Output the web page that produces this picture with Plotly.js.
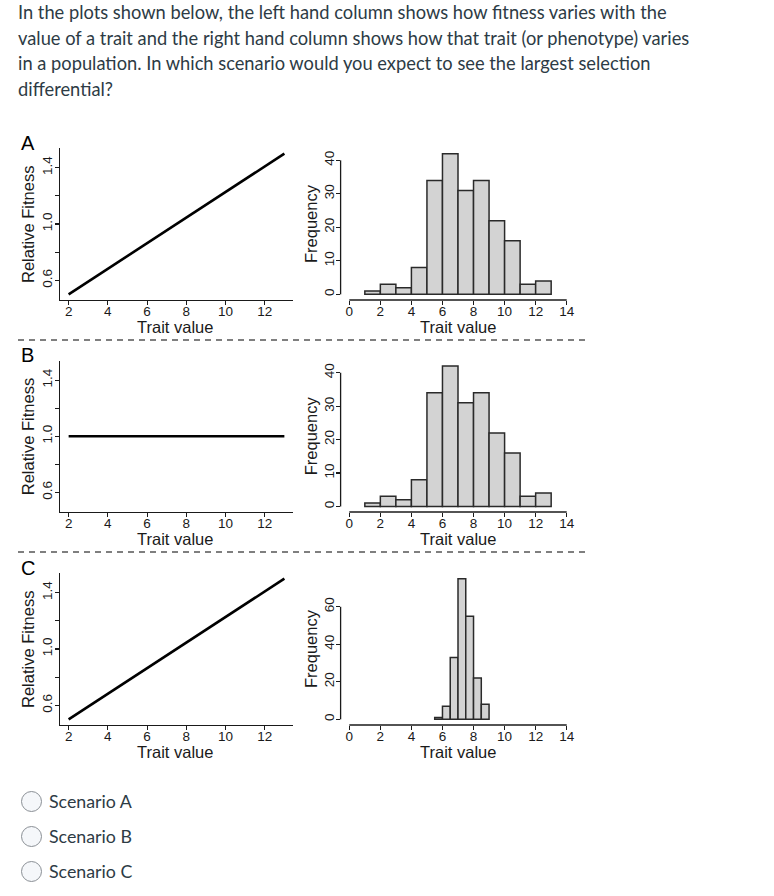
<!DOCTYPE html>
<html>
<head>
<meta charset="utf-8">
<script src="https://cdn.plot.ly/plotly-3.0.1.min.js"></script>
<style>
  html, body { margin: 0; padding: 0; background: #fff; }
  body { width: 774px; height: 896px; position: relative; overflow: hidden; }
  #chart { position: absolute; left: 0; top: 0; width: 774px; height: 896px; }
  #question { position: absolute; left: 18px; top: 0px; font-family: Lato, "Open Sans", sans-serif;
    font-size: 18.3px; line-height: 25.7px; color: #2d3b45; white-space: nowrap; }
  .opt { position: absolute; left: 21px; height: 24px; font-family: Lato, sans-serif; font-size: 17.8px; color: #2d3b45; }
  .opt .dot { position: absolute; left: 0; top: 1px; width: 21px; height: 21px; border-radius: 50%;
    border: 1.3px solid #8a8f95; background: #f5f7fa; box-sizing: border-box; }
  .opt .lbl { position: absolute; left: 28px; top: 0; line-height: 22px; white-space: nowrap; }
</style>
</head>
<body>
<div id="chart"></div>
<div id="question">In the plots shown below, the left hand column shows how fitness varies with the<br>value of a trait and the right hand column shows how that trait (or phenotype) varies<br>in a population. In which scenario would you expect to see the largest selection<br>differential?</div>
<div class="opt" style="top:790px"><span class="dot"></span><span class="lbl">Scenario A</span></div>
<div class="opt" style="top:825px"><span class="dot"></span><span class="lbl">Scenario B</span></div>
<div class="opt" style="top:860px"><span class="dot"></span><span class="lbl">Scenario C</span></div>
<script>
// ---- data ----
const panelLabels = ["A", "B", "C"];
const traitX = [2, 13];
const fitnessA = [0.5, 1.5];
const fitnessB = [1.0, 1.0];
const fitnessC = [0.5, 1.5];

const histEdgesAB = [1, 2, 3, 4, 5, 6, 7, 8, 9, 10, 11, 12, 13];
const histCountsA = [1, 3, 2, 8, 34, 42, 31, 34, 22, 16, 3, 4];
const histCountsB = [1, 3, 2, 8, 34, 42, 31, 34, 22, 16, 3, 4];
const histEdgesC = [5.5, 6, 6.5, 7, 7.5, 8, 8.5, 9];
const histCountsC = [1, 7, 33, 75, 55, 22, 8];

const fitTicks = [0.6, 0.8, 1.0, 1.2, 1.4];
const fitTickText = ["0.6", "", "1.0", "", "1.4"];
const traitTicksLeft = [2, 4, 6, 8, 10, 12];
const traitTicksRight = [0, 2, 4, 6, 8, 10, 12, 14];
const freqTicksAB = [0, 10, 20, 30, 40];
const freqTicksC = [0, 20, 40, 60];

const xTitle = "Trait value";
const fitTitle = "Relative Fitness";
const freqTitle = "Frequency";

// ---- layout helpers ----
const W = 774, H = 896;
const px = v => v / W;
const py = v => 1 - v / H;
const FONT = "Liberation Sans, Arial, Helvetica, sans-serif";
const INK = "#1a1a1a";

const rows = [ {top: 148, bot: 300}, {top: 360.5, bot: 512}, {top: 573, bot: 725} ];
const leftDom = [px(60), px(293)];
const rightDom = [px(340.6), px(575.4)];

function centers(edges) { return edges.slice(0, -1).map((e, i) => (e + edges[i + 1]) / 2); }
function widths(edges) { return edges.slice(0, -1).map((e, i) => edges[i + 1] - e); }

const fitSeries = [fitnessA, fitnessB, fitnessC];
const histSeries = [[histEdgesAB, histCountsA, freqTicksAB, [-1.68, 43.68]],
                    [histEdgesAB, histCountsB, freqTicksAB, [-1.68, 43.68]],
                    [histEdgesC, histCountsC, freqTicksC, [-3, 78]]];

const data = [];
const layout = {
  width: W, height: H, margin: {l: 0, r: 0, t: 0, b: 0},
  paper_bgcolor: "#fff", plot_bgcolor: "#fff", showlegend: false,
  font: {family: FONT, color: INK},
  shapes: [], annotations: []
};

const tickFont = {family: FONT, size: 13.5, color: INK};
const titleFont = {family: FONT, size: 16.5, color: INK};

function title(text, x, y, angle) {
  return {text: text, xref: "paper", yref: "paper", x: px(x), y: py(y), xanchor: "center", yanchor: "middle",
    textangle: angle, showarrow: false, borderpad: 0, font: titleFont};
}

for (let r = 0; r < 3; r++) {
  const lx = 2 * r + 1, hx = 2 * r + 2;
  const lxs = "x" + (lx === 1 ? "" : lx), lys = "y" + (lx === 1 ? "" : lx);
  const hxs = "x" + hx, hys = "y" + hx;
  const yd = [py(rows[r].bot), py(rows[r].top)];
  const ymid = (rows[r].top + rows[r].bot) / 2;

  data.push({type: "scatter", mode: "lines", x: traitX, y: fitSeries[r], xaxis: lxs, yaxis: lys,
    line: {color: "#000", width: 2.6}, hoverinfo: "skip"});
  const [edges, counts, fticks, yr] = histSeries[r];
  data.push({type: "bar", x: centers(edges), y: counts, width: widths(edges), xaxis: hxs, yaxis: hys,
    marker: {color: "#d3d3d3", line: {color: "#2a2a2a", width: 1.5}}, hoverinfo: "skip"});

  const kx = "xaxis" + (lx === 1 ? "" : lx), ky = "yaxis" + (lx === 1 ? "" : lx);
  layout[kx] = {domain: leftDom, anchor: lys, range: [1.56, 13.44], tickvals: traitTicksLeft,
    showline: true, linecolor: INK, linewidth: 1.3, ticks: "outside", ticklen: 4, tickcolor: INK, tickwidth: 1.1,
    showgrid: false, zeroline: false, tickfont: tickFont, ticklabelstandoff: -6};
  layout[ky] = {domain: yd, anchor: lxs, range: [0.46, 1.54], tickvals: fitTicks, ticktext: fitTickText,
    showline: true, linecolor: INK, linewidth: 1.3, ticks: "outside", ticklen: 4, tickcolor: INK, tickwidth: 1.1,
    showgrid: false, zeroline: false, tickfont: tickFont, tickangle: -90, ticklabelstandoff: -3};

  layout["xaxis" + hx] = {domain: rightDom, anchor: hys, range: [-0.56, 14.56], tickvals: traitTicksRight,
    showline: false, ticks: "outside", ticklen: 4, tickcolor: INK, tickwidth: 1.1,
    showgrid: false, zeroline: false, tickfont: tickFont, ticklabelstandoff: -5};
  layout["yaxis" + hx] = {domain: yd, anchor: hxs, range: yr, tickvals: fticks,
    showline: false, ticks: "outside", ticklen: 4, tickcolor: INK, tickwidth: 1.1,
    showgrid: false, zeroline: false, tickfont: tickFont, tickangle: -90, ticklabelstandoff: -4};

  // axis titles
  layout.annotations.push(title(xTitle, 175, rows[r].bot + 27, 0));
  layout.annotations.push(title(xTitle, 457.5, rows[r].bot + 27, 0));
  layout.annotations.push(title(fitTitle, 28, ymid, -90));
  layout.annotations.push(title(freqTitle, 311, ymid, -90));

  // R-style axis lines spanning first to last tick
  layout.shapes.push({type: "line", xref: hxs, yref: hys + " domain",
    x0: traitTicksRight[0], x1: traitTicksRight[traitTicksRight.length - 1], y0: 0, y1: 0,
    line: {color: INK, width: 1.3}});
  layout.shapes.push({type: "line", xref: hxs + " domain", yref: hys,
    x0: 0, x1: 0, y0: fticks[0], y1: fticks[fticks.length - 1],
    line: {color: INK, width: 1.3}});

  // panel letter
  layout.annotations.push({text: panelLabels[r], xref: "paper", yref: "paper",
    x: px(19), y: py(rows[r].top - 5), xanchor: "left", yanchor: "middle", showarrow: false,
    font: {family: FONT, size: 20, color: "#000"}});
}

// dashed separators between scenarios
[340, 552].forEach(yy => layout.shapes.push({type: "line", xref: "paper", yref: "paper",
  x0: px(18), x1: px(588), y0: py(yy), y1: py(yy), line: {color: "#555", width: 1.4, dash: "6px,5px"}}));

Plotly.newPlot("chart", data, layout, {staticPlot: true, displayModeBar: false});
</script>
</body>
</html>
